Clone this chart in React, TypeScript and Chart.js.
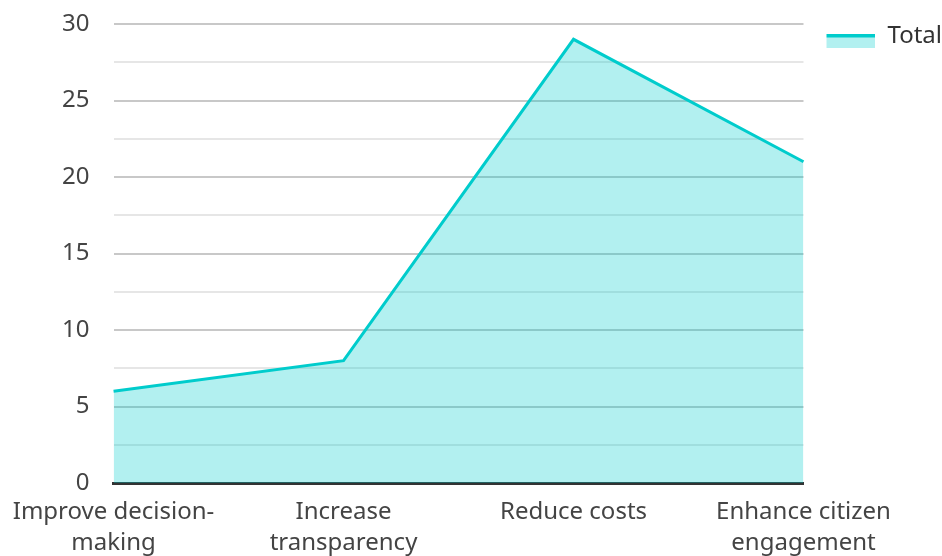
import React, { useEffect, useRef } from "react";
import { Chart, registerables } from "chart.js";

Chart.register(...registerables);

const categories: string[][] = [
  ["Improve decision-", "making"],
  ["Increase", "transparency"],
  ["Reduce costs"],
  ["Enhance citizen", "engagement"],
];
const totalValues: number[] = [6, 8, 29, 21];
const seriesName = "Total";

const LINE = "rgb(0,204,204)";
const FILL = "rgba(0,204,204,0.3)";
const FONT = "'Noto Sans', sans-serif";

function makeSwatch(): HTMLCanvasElement {
  const m = 13;
  const c = document.createElement("canvas");
  c.width = 49 + m;
  c.height = 28;
  const g = c.getContext("2d")!;
  g.fillStyle = FILL;
  g.fillRect(m, 15, 49, 11);
  g.fillStyle = LINE;
  g.fillRect(m, 12, 49, 3.5);
  return c;
}

export default function App() {
  const ref = useRef<HTMLCanvasElement | null>(null);
  useEffect(() => {
    if (!ref.current) return;
    const swatch = makeSwatch();
    const chart = new Chart(ref.current, {
      type: "line",
      data: {
        labels: categories,
        datasets: [
          {
            label: seriesName,
            data: totalValues,
            borderColor: LINE,
            backgroundColor: FILL,
            borderWidth: 3,
            fill: "origin",
            pointRadius: 0,
            tension: 0,
            pointStyle: swatch as any,
          },
        ],
      },
      options: {
        animation: false,
        responsive: true,
        maintainAspectRatio: false,
        layout: { padding: { top: 0, left: 52.5, right: -10, bottom: -2.5 } },
        plugins: {
          tooltip: { enabled: false },
          legend: {
            position: "right",
            align: "start",
            title: {
              display: true,
              text: "",
              font: { family: FONT, size: 10, lineHeight: 1.2 },
              padding: { top: 2, bottom: 0 },
            },
            labels: {
              usePointStyle: true,
              pointStyleWidth: 62,
              boxHeight: 14,
              color: "#333",
              font: { family: FONT, size: 24 },
              padding: 10,
            },
          },
        },
        scales: {
          x: {
            offset: false,
            grid: {
              display: true,
              drawOnChartArea: false,
              drawTicks: true,
              tickLength: 13,
              tickColor: "rgba(0,0,0,0)",
            },
            border: { display: true, color: "#333", width: 3 },
            ticks: {
              color: "#444",
              font: { family: FONT, size: 24, lineHeight: 1.3 },
              maxRotation: 0,
              autoSkip: false,
              padding: 0,
            },
          },
          y: {
            min: 0,
            max: 30,
            grid: {
              drawTicks: true,
              tickLength: 14.4,
              tickColor: "rgba(0,0,0,0)",
              color: (ctx: any) =>
                ctx.tick && ctx.tick.value % 5 === 0 ? "#c8c8c8" : "#e6e6e6",
              lineWidth: 2,
            },
            border: { display: false },
            ticks: {
              stepSize: 2.5,
              color: "#444",
              padding: 9.6,
              font: { family: FONT, size: 24 },
              callback: (v: any) => (Number(v) % 5 === 0 ? String(v) : ""),
            },
          },
        },
      },
    });
    return () => chart.destroy();
  }, []);
  return (
    <div style={{ position: "absolute", left: 0, top: 0, width: 942, height: 556 }}>
      <canvas ref={ref} />
    </div>
  );
}
